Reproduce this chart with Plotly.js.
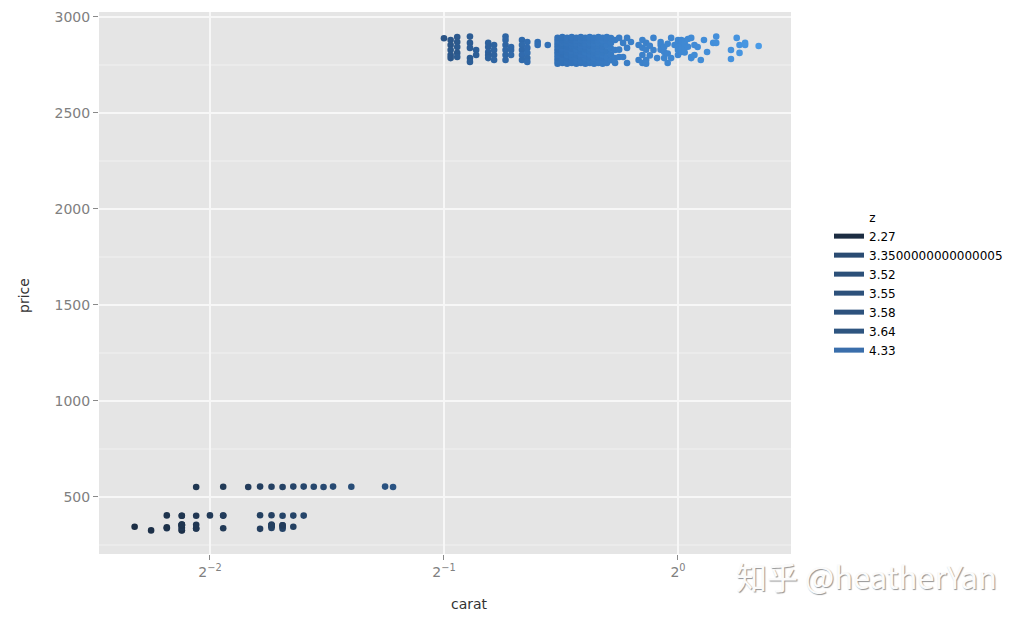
<!DOCTYPE html>
<html>
<head>
<meta charset="utf-8">
<script src="https://cdn.plot.ly/plotly-3.0.1.min.js"></script>
<style>
  html, body { margin: 0; padding: 0; background: #ffffff; }
  #chart { width: 1024px; height: 620px; }
</style>
</head>
<body>
<div id="chart"></div>
<script>
// ---------------- data ----------------
const carat = [
  // low price group
  0.23,0.21,0.23,0.29,0.31,0.24,0.24,0.26,0.22,0.23,0.30,0.23,0.22,0.31,0.20,0.32,0.30,0.30,0.30,0.30,0.30,0.23,0.23,0.31,0.31,0.23,0.24,0.30,0.23,0.23,
  0.23,0.23,0.22,0.24,0.25,0.26,0.26,0.29,0.30,0.31,0.32,0.33,
  0.24,0.26,0.28,0.29,0.30,0.31,0.32,0.33,0.34,0.35,0.36,0.38,0.42,0.43,
  // high price group, left part
  0.50,
  0.51,0.51,0.51,0.51,0.51,
  0.52,0.52,0.52,0.52,0.52,
  0.54,0.54,0.54,0.54,0.54,
  0.55,0.55,
  0.57,0.57,0.57,0.57,0.57,
  0.58,0.58,0.58,0.58,
  0.60,0.60,0.60,0.60,0.60,0.60,
  0.61,0.61,0.61,
  0.63,0.63,0.63,0.63,0.63,
  0.64,0.64,0.64,0.64,0.64,
  0.66,0.66,
  0.68,
  // dense block
  0.70,0.70,0.70,0.70,0.70,0.70,0.70,0.70,0.70,0.70,
  0.71,0.71,0.71,0.71,0.71,0.71,0.71,0.71,0.71,0.71,
  0.72,0.72,0.72,0.72,0.72,0.72,0.72,0.72,0.72,0.72,
  0.73,0.73,0.73,0.73,0.73,0.73,0.73,0.73,0.73,0.73,
  0.74,0.74,0.74,0.74,0.74,0.74,0.74,0.74,0.74,0.74,
  0.75,0.75,0.75,0.75,0.75,0.75,0.75,0.75,0.75,0.75,
  0.76,0.76,0.76,0.76,0.76,0.76,0.76,0.76,0.76,0.76,
  0.77,0.77,0.77,0.77,0.77,0.77,0.77,0.77,0.77,0.77,
  0.78,0.78,0.78,0.78,0.78,0.78,0.78,0.78,0.78,0.78,
  0.79,0.79,0.79,0.79,0.79,0.79,0.79,0.79,0.79,0.79,
  0.80,0.80,0.80,0.80,0.80,0.80,0.80,0.80,0.80,0.80,
  0.81,0.81,0.81,0.81,0.81,0.81,
  0.82,0.82,0.82,0.82,0.82,
  0.83,0.83,0.83,0.83,
  0.84,0.84,0.84,
  0.85,0.85,
  // right sparse part
  0.86,0.86,0.86,
  0.87,
  0.89,0.89,
  0.90,0.90,0.90,0.90,
  0.91,0.91,0.91,0.91,
  0.92,0.92,
  0.93,0.93,
  0.94,
  0.95,0.95,0.95,
  0.96,0.96,0.96,
  0.97,0.97,0.97,
  0.98,0.98,
  0.99,
  1.00,1.00,1.00,1.00,1.00,
  1.01,1.01,1.01,1.01,1.01,
  1.02,1.02,1.02,1.02,
  1.03,1.03,
  1.04,1.04,1.04,
  1.05,1.05,
  1.06,
  1.07,
  1.08,
  1.09,
  1.11,
  1.12,1.12,
  1.17,1.17,
  1.19,
  1.20,1.20,
  1.22,1.22,
  1.27
];

const price = [
  326,326,327,334,335,336,336,337,337,338,339,340,342,344,345,345,348,351,351,351,351,352,353,353,353,354,355,357,357,357,
  402,402,404,402,404,403,403,405,405,402,403,403,
  552,553,552,554,553,552,554,554,553,552,554,553,554,552,
  2889,
  2880,2854,2828,2802,2786,
  2896,2870,2844,2813,2792,
  2898,2865,2839,2786,2766,
  2828,2802,
  2865,2844,2818,2802,2786,
  2854,2828,2802,2776,
  2898,2880,2854,2828,2802,2776,
  2844,2828,2802,
  2880,2854,2828,2802,2776,
  2870,2839,2813,2786,2766,
  2870,2854,
  2854,
  2757,2772,2787,2802,2817,2832,2847,2862,2877,2892,
  2760,2775,2790,2805,2820,2835,2850,2865,2880,2895,
  2757,2772,2787,2802,2817,2832,2847,2862,2877,2892,
  2760,2775,2790,2805,2820,2835,2850,2865,2880,2895,
  2757,2772,2787,2802,2817,2832,2847,2862,2877,2892,
  2760,2775,2790,2805,2820,2835,2850,2865,2880,2895,
  2757,2772,2787,2802,2817,2832,2847,2862,2877,2892,
  2760,2775,2790,2805,2820,2835,2850,2865,2880,2895,
  2757,2772,2787,2802,2817,2832,2847,2862,2877,2892,
  2760,2775,2790,2805,2820,2835,2850,2865,2880,2895,
  2757,2772,2787,2802,2817,2832,2847,2862,2877,2892,
  2760,2790,2820,2850,2880,2895,
  2775,2805,2835,2865,2890,
  2786,2828,2880,2760,
  2891,2830,2792,
  2792,2865,
  2891,2839,2760,
  2870,
  2854,2776,
  2802,2760,2880,2840,
  2776,2757,2865,2830,
  2850,2800,
  2891,2828,
  2786,
  2854,2870,2830,
  2818,2786,2845,
  2760,2810,2860,
  2891,2786,
  2854,
  2802,2880,2865,2844,2828,
  2818,2880,2850,2870,2830,
  2839,2875,2860,2815,
  2885,2845,
  2792,2786,2891,
  2854,2802,
  2844,
  2776,
  2880,
  2818,
  2865,
  2898,2865,
  2781,2828,
  2891,
  2854,2813,
  2854,2865,
  2849
];

const z = [
  2.43,2.31,2.31,2.63,2.75,2.48,2.47,2.53,2.49,2.39,2.73,2.46,2.33,2.71,2.27,2.68,2.68,2.70,2.71,2.66,2.71,2.48,2.41,2.62,2.59,2.41,2.47,2.67,2.40,2.42,
  2.41,2.44,2.40,2.48,2.54,2.52,2.61,2.66,2.69,2.75,2.75,2.78,
  2.46,2.55,2.59,2.64,2.69,2.72,2.76,2.80,2.82,2.86,2.89,2.94,3.05,3.08,
  3.13,
  3.15,3.14,3.17,3.16,3.15,
  3.19,3.18,3.20,3.17,3.21,
  3.24,3.23,3.25,3.22,3.26,
  3.27,3.26,
  3.31,3.30,3.32,3.29,3.31,
  3.33,3.34,3.32,3.35,
  3.37,3.38,3.36,3.39,3.37,3.38,
  3.40,3.39,3.41,
  3.43,3.44,3.42,3.45,3.43,
  3.46,3.45,3.47,3.44,3.46,
  3.49,3.50,
  3.52,
  3.53,3.55,3.52,3.56,3.54,3.51,3.55,3.53,3.57,3.54,
  3.56,3.55,3.57,3.54,3.56,3.58,3.55,3.57,3.56,3.55,
  3.57,3.58,3.56,3.59,3.57,3.58,3.56,3.58,3.57,3.59,
  3.59,3.58,3.60,3.59,3.61,3.58,3.60,3.59,3.58,3.60,
  3.60,3.61,3.62,3.60,3.61,3.63,3.60,3.62,3.61,3.60,
  3.62,3.63,3.61,3.64,3.62,3.63,3.64,3.62,3.63,3.61,
  3.64,3.63,3.65,3.64,3.66,3.63,3.64,3.65,3.64,3.63,
  3.65,3.66,3.64,3.67,3.65,3.66,3.64,3.66,3.65,3.67,
  3.67,3.66,3.68,3.67,3.66,3.68,3.67,3.69,3.66,3.67,
  3.68,3.69,3.67,3.70,3.68,3.69,3.68,3.70,3.69,3.68,
  3.70,3.71,3.69,3.72,3.70,3.71,3.69,3.70,3.72,3.71,
  3.71,3.72,3.70,3.73,3.71,3.72,
  3.73,3.72,3.74,3.73,3.72,
  3.74,3.75,3.73,3.74,
  3.75,3.76,3.75,
  3.77,3.76,
  3.78,3.79,3.78,
  3.80,
  3.82,3.81,
  3.84,3.83,3.85,3.84,
  3.85,3.86,3.84,3.85,
  3.86,3.87,
  3.88,3.87,
  3.89,
  3.90,3.91,3.90,
  3.92,3.91,3.92,
  3.93,3.92,3.94,
  3.94,3.95,
  3.95,
  3.96,3.97,3.96,3.98,3.97,
  3.98,3.97,3.99,3.98,3.99,
  3.99,4.00,3.99,4.01,
  4.01,4.00,
  4.02,4.03,4.02,
  4.03,4.04,
  4.05,
  4.06,
  4.07,
  4.08,
  4.10,
  4.11,4.12,
  4.17,4.16,
  4.19,
  4.20,4.21,
  4.22,4.23,
  4.33
];

// legend entries for z
const zLegendLabels = ['2.27', '3.3500000000000005', '3.52', '3.55', '3.58', '3.64', '4.33'];

// axis ticks and titles
const xTickVals = [0.25, 0.5, 1];
const xTickText = ['2<sup>\u22122</sup>', '2<sup>\u22121</sup>', '2<sup>0</sup>'];
const yTickVals = [500, 1000, 1500, 2000, 2500, 3000];
const yMinorVals = [250, 750, 1250, 1750, 2250, 2750];
const xTitle = 'carat';
const yTitle = 'price';

// ---------------- styles ----------------
const legendColors = ['#1c2d42', '#2a4b72', '#2c5079', '#2d517b', '#2d527d', '#2e5580', '#3a6eab'];
const pointScale = [
  [0, '#1c2e45'], [0.15, '#233c5a'], [0.42, '#2b5688'],
  [0.6, '#3270b6'], [0.8, '#3e86d0'], [1, '#4b9ce8']
];
const FONT = 'DejaVu Sans, Liberation Sans, sans-serif';

const traces = [{
  type: 'scatter',
  mode: 'markers',
  x: carat,
  y: price,
  showlegend: false,
  hoverinfo: 'skip',
  marker: {
    size: 6.6,
    color: z,
    cmin: 2.27,
    cmax: 4.35,
    colorscale: pointScale,
    showscale: false,
    line: { width: 0 }
  }
}];

zLegendLabels.forEach((lab, i) => {
  traces.push({
    type: 'scatter',
    mode: 'lines',
    x: [null],
    y: [null],
    name: lab,
    showlegend: true,
    line: { color: legendColors[i], width: 5 }
  });
});

const layout = {
  width: 1024,
  height: 620,
  margin: { l: 99, r: 233, t: 12, b: 66 },
  paper_bgcolor: '#ffffff',
  plot_bgcolor: '#e5e5e5',
  font: { family: FONT, size: 12, color: '#222' },
  showlegend: true,
  xaxis: {
    type: 'log',
    range: [-0.7448, 0.1454],
    tickmode: 'array',
    tickvals: xTickVals,
    ticktext: xTickText,
    ticks: 'outside',
    ticklen: 5,
    tickwidth: 1,
    tickcolor: '#8a8a8a',
    tickfont: { family: FONT, size: 14, color: '#808080' },
    showgrid: true,
    gridcolor: '#f7f7f7',
    gridwidth: 2,
    zeroline: false,
    showline: false
  },
  yaxis: {
    range: [203, 3026],
    tickmode: 'array',
    tickvals: yTickVals,
    ticks: 'outside',
    ticklen: 5,
    tickwidth: 1,
    tickcolor: '#8a8a8a',
    tickfont: { family: FONT, size: 14, color: '#808080' },
    showgrid: true,
    gridcolor: '#f7f7f7',
    gridwidth: 2,
    zeroline: false,
    showline: false,
    minor: { tickmode: 'array', tickvals: yMinorVals, showgrid: true, gridcolor: '#ebebeb', gridwidth: 1.2, ticks: '' }
  },
  legend: {
    x: 1.0549,
    xanchor: 'left',
    y: 0.642,
    yanchor: 'top',
    bgcolor: 'rgba(0,0,0,0)',
    font: { family: FONT, size: 12, color: '#000' },
    tracegroupgap: 0,
    itemwidth: 30,
    title: { text: '&nbsp;&nbsp;&nbsp;&nbsp;&nbsp;&nbsp;&nbsp;&nbsp;&nbsp;&nbsp;z', font: { family: FONT, size: 12, color: '#000' }, side: 'top' }
  },
  annotations: [
    {
      // x axis title
      xref: 'paper', yref: 'paper',
      x: (469 - 99) / 692, y: (554 - 604) / 542,
      xanchor: 'center', yanchor: 'middle',
      showarrow: false,
      text: xTitle,
      font: { family: FONT, size: 14, color: '#333' }
    },
    {
      // y axis title
      xref: 'paper', yref: 'paper',
      x: (24 - 99) / 692, y: (554 - 296) / 542,
      xanchor: 'center', yanchor: 'middle',
      textangle: -90,
      showarrow: false,
      text: yTitle,
      font: { family: FONT, size: 14, color: '#333' }
    },
    {
      // watermark
      xref: 'paper', yref: 'paper',
      x: (734 - 99) / 692, y: (554 - 575) / 542,
      xanchor: 'left', yanchor: 'middle',
      showarrow: false,
      text: '知乎 @heatherYan',
      font: { family: 'Noto Sans CJK SC, sans-serif', size: 31, color: '#fbfbfb', shadow: '1px 1px 1px rgba(0,0,0,0.42)' }
    }
  ]
};

Plotly.newPlot('chart', traces, layout, { staticPlot: true, displayModeBar: false });
</script>
</body>
</html>
